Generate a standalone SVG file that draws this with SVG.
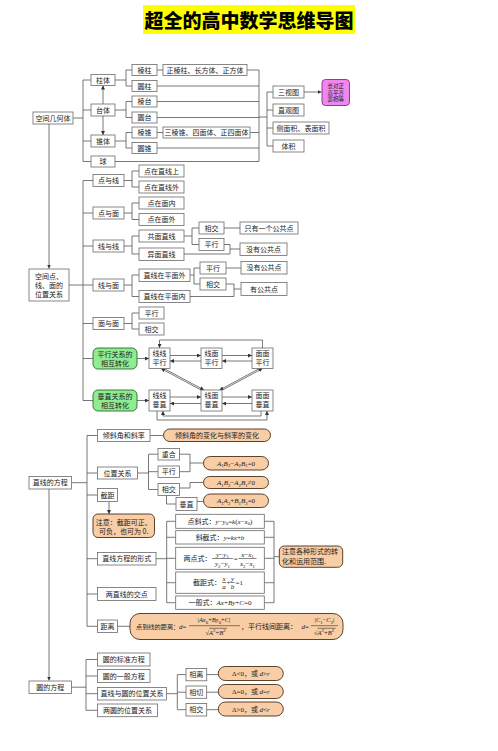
<svg xmlns="http://www.w3.org/2000/svg" width="498" height="751" viewBox="0 0 498 751">
<defs>
<marker id="ah" viewBox="0 0 6 6" refX="6" refY="3" markerWidth="4" markerHeight="4" orient="auto" markerUnits="userSpaceOnUse"><path d="M0,0 L6,3 L0,6 z" fill="#333"/></marker>
<style>
.b{fill:#fff;stroke:#6a6a6a;stroke-width:0.8}
.p{fill:#f9cda5;stroke:#4a3018;stroke-width:0.9}
.g{fill:#90ec90;stroke:#2f6b2f;stroke-width:0.9}
.v{fill:#ee88ee;stroke:#8a2a8a;stroke-width:0.9}
.t{font-family:"Noto Sans CJK SC","Noto Sans",sans-serif;font-size:7px;fill:#222;text-anchor:middle}
.s{text-anchor:start}
.c path{fill:none;stroke:#555;stroke-width:0.8}
.a{marker-end:url(#ah)}
.r{font-family:"Liberation Serif","DejaVu Serif",serif;font-style:normal}
.i{font-family:"Liberation Serif","DejaVu Serif",serif;font-style:italic}
.u{font-size:4.8px}
.ln{stroke:#333;stroke-width:0.6}
.sm{font-size:5.5px}
</style>
</defs>
<rect width="498" height="751" fill="#fff"/>
<g id="title">
<rect x="143" y="5" width="212" height="29" fill="#ffff00"/>
<text x="249" y="27.5" font-family="'Noto Sans CJK SC',sans-serif" font-size="19" font-weight="900" text-anchor="middle" fill="#000">超全的高中数学思维导图</text>
</g>
<g id="connectors" class="c">
<path d="M73 118H83M83 80V161.5M83 80H91M83 110H91M83 141H91M83 161.5H91"/>
<path class="a" d="M103 104V85.5"/>
<path class="a" d="M103 116V135"/>
<path d="M115 80H126M126 70V86M126 70H132M126 86H132M115 110H126M126 101.5V117.5M126 101.5H132M126 117.5H132M115 141H126M126 132.5V148M126 132.5H132M126 148H132"/>
<path d="M157 70H163M247 70H259M157 86H259M157 101.5H259M157 117.5H259M157 132.5H163M250 132.5H259M157 148H259M115 161.5H259M259 70V161.5"/>
<path d="M259 117H267M267 92V146M267 92H273M267 110H273M267 128H273M267 146H273"/>
<path class="a" d="M304 92H321.5"/>
<path class="a" d="M49 124V268.5"/>
<path d="M69 285H83M83 180.5V400.5M83 180.5H93M83 213H93M83 246H93M83 285H93M83 323.5H93M83 358.5H93M83 400.5H93"/>
<path d="M124 180.5H132M132 171V187M132 171H139M132 187H139M124 213H132M132 203V219.5M132 203H139M132 219.5H139M124 246H132M132 236V254M132 236H139M132 254H139"/>
<path d="M184 236H192M192 228V244.5M192 228H199M192 244.5H199M224 228H240M224 244.5H230V254M184 254H230M230 249H240"/>
<path d="M124 285H132M132 275V296.5M132 275H139M132 296.5H139M190 275H194M194 268V284M194 268H200M194 284H200M226 268H241M226 284H234V296.5M190 296.5H234M234 289H241"/>
<path d="M124 323.5H132M132 313V329M132 313H139M132 329H139"/>
<path class="a" d="M137 358.5H149"/>
<path class="a" d="M170 355.5H201"/>
<path class="a" d="M201 361H170"/>
<path class="a" d="M222 355.5H252"/>
<path class="a" d="M252 361H222"/>
<path class="a" d="M262.5 348V340H159.5V348"/>
<path class="a" d="M164 368.5L204 390"/>
<path class="a" d="M201 390L161 368.5"/>
<path class="a" d="M259.5 368.5L219.5 390"/>
<path class="a" d="M222.5 390L262.5 368.5"/>
<path class="a" d="M137 400.5H149"/>
<path class="a" d="M170 397H201"/>
<path class="a" d="M201 403.5H170"/>
<path class="a" d="M222 397H252"/>
<path class="a" d="M252 403.5H222"/>
<path class="a" d="M157 411V420H267V411"/>
<path class="a" d="M261 411V416H163V411"/>
<path class="a" d="M49 489V680.5"/>
<path d="M71.5 482.7H87M87 435.5V626.3M87 435.5H97.5M87 473H97.5M87 495H97.5M87 558.7H97.5M87 594H97.5M87 626.3H97.5M150 435.5H163.5M117.5 626.3H130"/>
<path class="a" d="M109 501.5V514"/>
<path d="M137.5 473H148.5M148.5 454.2V489.5M148.5 454.2H158M148.5 471.7H158M148.5 489.5H158"/>
<path d="M179.5 454.2H190V471.7M179.5 471.7H190M190 463H203.5M179.5 488H190V482.5H203.5M166.5 495.5V504H176M197 501.5H203.5"/>
<path d="M156 558.7H166.7M166.7 521.3V602.7M166.7 521.3H175.7M166.7 537.3H175.7M166.7 558.3H175.7M166.7 582.7H175.7M166.7 602.7H175.7"/>
<path d="M264.3 521.3H274M264.3 537.3H274M264.3 558.3H274M264.3 582.7H274M264.3 602.7H274M274 521.3V602.7M274 556.7H279.3"/>
<path d="M71.5 687.2H86M86 659.5V710.3M86 659.5H97.5M86 676H97.5M86 693.7H97.5M86 710.3H97.5"/>
<path d="M166.5 693.7H177.3M177.3 674.6V709.7M177.3 674.6H186M177.3 692.2H186M177.3 709.7H186M206.7 674.6H218.3M206.7 692.2H218.3M206.7 709.7H218.3"/>
</g>
<g id="n-kjjht"><rect class="b" x="33" y="112" width="40" height="12"/><text class="t" x="53" y="120.5">空间几何体</text></g>
<g id="n-zhuti"><rect class="b" x="91" y="74.5" width="24" height="11"/><text class="t" x="103" y="82.5">柱体</text></g>
<g id="n-taiti"><rect class="b" x="91" y="104" width="24" height="12"/><text class="t" x="103" y="112.5">台体</text></g>
<g id="n-zhuiti"><rect class="b" x="91" y="135" width="24" height="12"/><text class="t" x="103" y="143.5">锥体</text></g>
<g id="n-qiu"><rect class="b" x="91" y="156" width="24" height="11"/><text class="t" x="103" y="164">球</text></g>
<g id="n-lengzhu"><rect class="b" x="132" y="64.5" width="25" height="11"/><text class="t" x="144.5" y="72.5">棱柱</text></g>
<g id="n-yuanzhu"><rect class="b" x="132" y="80.5" width="25" height="11"/><text class="t" x="144.5" y="88.5">圆柱</text></g>
<g id="n-lengtai"><rect class="b" x="132" y="96" width="25" height="11"/><text class="t" x="144.5" y="104">棱台</text></g>
<g id="n-yuantai"><rect class="b" x="132" y="112" width="25" height="11"/><text class="t" x="144.5" y="120">圆台</text></g>
<g id="n-lengzhui"><rect class="b" x="132" y="127" width="25" height="11"/><text class="t" x="144.5" y="135">棱锥</text></g>
<g id="n-yuanzhui"><rect class="b" x="132" y="142.5" width="25" height="11"/><text class="t" x="144.5" y="150.5">圆锥</text></g>
<g id="n-zlz"><rect class="b" x="163" y="64.5" width="84" height="11"/><text class="t" x="205" y="72.5">正棱柱、长方体、正方体</text></g>
<g id="n-slz"><rect class="b" x="163" y="127" width="87" height="11"/><text class="t" x="206.5" y="135">三棱锥、四面体、正四面体</text></g>
<g id="n-sst"><rect class="b" x="273" y="86" width="31" height="12"/><text class="t" x="288.5" y="94.5">三视图</text></g>
<g id="n-zgt"><rect class="b" x="273" y="104" width="31" height="12"/><text class="t" x="288.5" y="112.5">直观图</text></g>
<g id="n-cmj"><rect class="b" x="273" y="122" width="56" height="12"/><text class="t" x="301" y="130.5">侧面积、表面积</text></g>
<g id="n-tj"><rect class="b" x="273" y="140" width="31" height="12"/><text class="t" x="288.5" y="148.5">体积</text></g>
<g id="n-cdz"><rect class="v" x="322" y="79.5" width="27.5" height="26" rx="3.5"/><text class="t sm" x="335.7" y="88.3">长对正</text><text class="t sm" x="335.7" y="94.8">高平齐</text><text class="t sm" x="335.7" y="101.3">宽相等</text></g>
<g id="n-kjd"><rect class="b" x="29" y="269" width="40" height="32"/><text class="t" x="49" y="278.5">空间点、</text><text class="t" x="49" y="287.5">线、面的</text><text class="t" x="49" y="296.5">位置关系</text></g>
<g id="n-dyx"><rect class="b" x="93" y="174.5" width="31" height="12"/><text class="t" x="108.5" y="183">点与线</text></g>
<g id="n-dym"><rect class="b" x="93" y="207" width="31" height="12"/><text class="t" x="108.5" y="215.5">点与面</text></g>
<g id="n-xyx"><rect class="b" x="93" y="240" width="31" height="12"/><text class="t" x="108.5" y="248.5">线与线</text></g>
<g id="n-xym"><rect class="b" x="93" y="279" width="31" height="12"/><text class="t" x="108.5" y="287.5">线与面</text></g>
<g id="n-mym"><rect class="b" x="93" y="317.5" width="31" height="12"/><text class="t" x="108.5" y="326">面与面</text></g>
<g id="n-dzzxs"><rect class="b" x="139" y="165" width="45" height="12"/><text class="t" x="161.5" y="173.5">点在直线上</text></g>
<g id="n-dzzxw"><rect class="b" x="139" y="181" width="45" height="12"/><text class="t" x="161.5" y="189.5">点在直线外</text></g>
<g id="n-dzmn"><rect class="b" x="139" y="197" width="45" height="12"/><text class="t" x="161.5" y="205.5">点在面内</text></g>
<g id="n-dzmw"><rect class="b" x="139" y="213.5" width="45" height="12"/><text class="t" x="161.5" y="222">点在面外</text></g>
<g id="n-gmzx"><rect class="b" x="139" y="230" width="45" height="12"/><text class="t" x="161.5" y="238.5">共面直线</text></g>
<g id="n-ymzx"><rect class="b" x="139" y="248" width="45" height="12.5"/><text class="t" x="161.5" y="256.5">异面直线</text></g>
<g id="n-xj1"><rect class="b" x="199" y="222" width="25" height="12"/><text class="t" x="211.5" y="230.5">相交</text></g>
<g id="n-px1"><rect class="b" x="199" y="238.5" width="25" height="12"/><text class="t" x="211.5" y="247">平行</text></g>
<g id="n-zyyg"><rect class="b" x="240" y="222" width="58" height="12"/><text class="t" x="269" y="230.5">只有一个公共点</text></g>
<g id="n-mygg1"><rect class="b" x="240" y="243" width="47" height="12.5"/><text class="t" x="263.5" y="251.7">没有公共点</text></g>
<g id="n-zxwai"><rect class="b" x="139" y="269" width="51" height="12.5"/><text class="t" x="164.5" y="277.5">直线在平面外</text></g>
<g id="n-zxnei"><rect class="b" x="139" y="290.5" width="51" height="12"/><text class="t" x="164.5" y="299">直线在平面内</text></g>
<g id="n-px2"><rect class="b" x="200" y="262" width="26" height="12"/><text class="t" x="213" y="270.5">平行</text></g>
<g id="n-xj2"><rect class="b" x="200" y="278" width="26" height="12"/><text class="t" x="213" y="286.5">相交</text></g>
<g id="n-mygg2"><rect class="b" x="241" y="261.5" width="46" height="12.5"/><text class="t" x="264" y="270.2">没有公共点</text></g>
<g id="n-ygg"><rect class="b" x="241" y="282.5" width="46" height="13"/><text class="t" x="264" y="291.5">有公共点</text></g>
<g id="n-px3"><rect class="b" x="139" y="307" width="25" height="12"/><text class="t" x="151.5" y="315.5">平行</text></g>
<g id="n-xj3"><rect class="b" x="139" y="323" width="25" height="12"/><text class="t" x="151.5" y="331.5">相交</text></g>
<g id="n-pxzh"><rect class="g" x="93" y="348" width="44" height="21" rx="5"/><text class="t" x="115" y="356.5">平行关系的</text><text class="t" x="115" y="365.5">相互转化</text></g>
<g id="n-czzh"><rect class="g" x="93" y="390" width="44" height="21" rx="5"/><text class="t" x="115" y="398.5">垂直关系的</text><text class="t" x="115" y="407.5">相互转化</text></g>
<g id="n-xxpx"><rect class="b" x="149" y="348" width="21" height="20.5"/><text class="t" x="159.5" y="355.5">线线</text><text class="t" x="159.5" y="364.5">平行</text></g>
<g id="n-xmpx"><rect class="b" x="201" y="348" width="21" height="20.5"/><text class="t" x="211.5" y="355.5">线面</text><text class="t" x="211.5" y="364.5">平行</text></g>
<g id="n-mmpx"><rect class="b" x="252" y="348" width="21" height="20.5"/><text class="t" x="262.5" y="355.5">面面</text><text class="t" x="262.5" y="364.5">平行</text></g>
<g id="n-xxcz"><rect class="b" x="149" y="390" width="21" height="21"/><text class="t" x="159.5" y="398">线线</text><text class="t" x="159.5" y="407">垂直</text></g>
<g id="n-xmcz"><rect class="b" x="201" y="390" width="21" height="21"/><text class="t" x="211.5" y="398">线面</text><text class="t" x="211.5" y="407">垂直</text></g>
<g id="n-mmcz"><rect class="b" x="252" y="390" width="21" height="21"/><text class="t" x="262.5" y="398">面面</text><text class="t" x="262.5" y="407">垂直</text></g>
<g id="n-zxdfc"><rect class="b" x="29" y="476.5" width="42.5" height="12.5"/><text class="t" x="50.2" y="485.2">直线的方程</text></g>
<g id="n-qxj"><rect class="b" x="97.5" y="429.5" width="52.5" height="12"/><text class="t" x="123.7" y="438">倾斜角和斜率</text></g>
<g id="n-qxjbh"><rect class="p" x="163.5" y="429" width="107" height="12.5" rx="6.25"/><text class="t" x="217" y="437.7">倾斜角的变化与斜率的变化</text></g>
<g id="n-wzgx"><rect class="b" x="97.5" y="467" width="40" height="12"/><text class="t" x="117.5" y="475.5">位置关系</text></g>
<g id="n-jj"><rect class="b" x="97.5" y="488.5" width="20" height="13"/><text class="t" x="107.5" y="497.5">截距</text></g>
<g id="n-zy1"><rect class="p" x="93" y="514" width="61.5" height="23.5" rx="5"/><text class="t" x="123.7" y="524.5">注意：截距可正、</text><text class="t" x="123.7" y="533.5">可负，也可为 0.</text></g>
<g id="n-chonghe"><rect class="b" x="158" y="448.5" width="21.5" height="11.5"/><text class="t" x="168.7" y="456.7">重合</text></g>
<g id="n-px4"><rect class="b" x="158" y="466" width="21.5" height="11.5"/><text class="t" x="168.7" y="474.2">平行</text></g>
<g id="n-xj4"><rect class="b" x="158" y="483.5" width="21.5" height="12"/><text class="t" x="168.7" y="492">相交</text></g>
<g id="n-cz"><rect class="b" x="176" y="497.5" width="21" height="13"/><text class="t" x="186.5" y="506.5">垂直</text></g>
<g id="n-f1"><rect class="p" x="203.5" y="456.5" width="65" height="13.5" rx="6.75"/><text class="t" x="236" y="465.6"><tspan class="i">A</tspan><tspan class="r u" dy="1.5">1</tspan><tspan class="i" dy="-1.5">B</tspan><tspan class="r u" dy="1.5">2</tspan><tspan class="r" dy="-1.5">−</tspan><tspan class="i">A</tspan><tspan class="r u" dy="1.5">2</tspan><tspan class="i" dy="-1.5">B</tspan><tspan class="r u" dy="1.5">1</tspan><tspan class="r" dy="-1.5">=0</tspan></text></g>
<g id="n-f2"><rect class="p" x="203.5" y="476.5" width="65" height="12" rx="6"/><text class="t" x="236" y="485"><tspan class="i">A</tspan><tspan class="r u" dy="1.5">1</tspan><tspan class="i" dy="-1.5">B</tspan><tspan class="r u" dy="1.5">2</tspan><tspan class="r" dy="-1.5">−</tspan><tspan class="i">A</tspan><tspan class="r u" dy="1.5">2</tspan><tspan class="i" dy="-1.5">B</tspan><tspan class="r u" dy="1.5">1</tspan><tspan class="r" dy="-1.5">≠0</tspan></text></g>
<g id="n-f3"><rect class="p" x="203.5" y="494" width="65" height="13.5" rx="6.75"/><text class="t" x="236" y="503.2"><tspan class="i">A</tspan><tspan class="r u" dy="1.5">1</tspan><tspan class="i" dy="-1.5">A</tspan><tspan class="r u" dy="1.5">2</tspan><tspan class="r" dy="-1.5">+</tspan><tspan class="i">B</tspan><tspan class="r u" dy="1.5">1</tspan><tspan class="i" dy="-1.5">B</tspan><tspan class="r u" dy="1.5">2</tspan><tspan class="r" dy="-1.5">=0</tspan></text></g>
<g id="n-zxfcxs"><rect class="b" x="97.5" y="552.5" width="58.5" height="12.5"/><text class="t" x="126.7" y="561.2">直线方程的形式</text></g>
<g id="n-lzxjd"><rect class="b" x="97.5" y="587.5" width="58.5" height="13"/><text class="t" x="126.7" y="596.5">两直线的交点</text></g>
<g id="n-jl"><rect class="b" x="97.5" y="620" width="20" height="12.5"/><text class="t" x="107.5" y="628.8">距离</text></g>
<g id="n-dxs"><rect class="b" x="175.7" y="514.3" width="88.6" height="14"/><text class="t" x="220" y="523.8">点斜式：<tspan class="i">y</tspan><tspan class="r">−</tspan><tspan class="i">y</tspan><tspan class="r u" dy="1.5">0</tspan><tspan class="r" dy="-1.5">=</tspan><tspan class="i">k</tspan><tspan class="r">(</tspan><tspan class="i">x</tspan><tspan class="r">−</tspan><tspan class="i">x</tspan><tspan class="r u" dy="1.5">0</tspan><tspan class="r" dy="-1.5">)</tspan></text></g>
<g id="n-xjs"><rect class="b" x="175.7" y="530.7" width="88.6" height="13.3"/><text class="t" x="220" y="539.8">斜截式：<tspan class="i">y</tspan><tspan class="r">=</tspan><tspan class="i">kx</tspan><tspan class="r">+</tspan><tspan class="i">b</tspan></text></g>
<g id="n-lds"><rect class="b" x="175.7" y="547.3" width="88.6" height="22"/><text class="t s" x="183.5" y="561">两点式：</text>
<text class="t" x="222.5" y="556.5"><tspan class="i">y</tspan><tspan class="r">−</tspan><tspan class="i">y</tspan><tspan class="r u" dy="1.5">1</tspan></text>
<path class="ln" d="M212 558.5H233"/>
<text class="t" x="222.5" y="566"><tspan class="i">y</tspan><tspan class="r u" dy="1.5">2</tspan><tspan class="r" dy="-1.5">−</tspan><tspan class="i">y</tspan><tspan class="r u" dy="1.5">1</tspan></text>
<text class="t r" x="235.8" y="561">=</text>
<text class="t" x="247.5" y="556.5"><tspan class="i">x</tspan><tspan class="r">−</tspan><tspan class="i">x</tspan><tspan class="r u" dy="1.5">1</tspan></text>
<path class="ln" d="M238.5 558.5H256.5"/>
<text class="t" x="247.5" y="566"><tspan class="i">x</tspan><tspan class="r u" dy="1.5">2</tspan><tspan class="r" dy="-1.5">−</tspan><tspan class="i">x</tspan><tspan class="r u" dy="1.5">1</tspan></text></g>
<g id="n-jjs"><rect class="b" x="175.7" y="572" width="88.6" height="21.3"/><text class="t s" x="193" y="585.2">截距式：</text>
<text class="t i" x="224" y="580.5">x</text><path class="ln" d="M222 582.5H226"/><text class="t i" x="224" y="589">a</text>
<text class="t r" x="228.5" y="585.2">+</text>
<text class="t i" x="232.5" y="580.5">y</text><path class="ln" d="M230.5 582.5H234.5"/><text class="t i" x="232.5" y="589">b</text>
<text class="t r s" x="235.5" y="585.2">=1</text></g>
<g id="n-ybs"><rect class="b" x="175.7" y="596" width="88.6" height="13.3"/><text class="t" x="220" y="605.2">一般式：<tspan class="i">Ax</tspan><tspan class="r">+</tspan><tspan class="i">By</tspan><tspan class="r">+</tspan><tspan class="i">C</tspan><tspan class="r">=0</tspan></text></g>
<g id="n-zy2"><rect class="p" x="279.3" y="546" width="63.4" height="21.3" rx="5"/><text class="t s" x="282" y="553.8">注意各种形式的转</text><text class="t s" x="282" y="563.6">化和运用范围.</text></g>
<g id="n-jlgs"><rect class="p" x="130" y="613.5" width="213" height="26" rx="10"/>
<text class="t s" x="136" y="628.8" style="font-size:6.2px">点到线的距离：</text>
<text class="t s" x="179" y="628.8"><tspan class="i">d</tspan><tspan class="r">=</tspan></text>
<text class="t" x="214" y="622.3" style="font-size:6.5px"><tspan class="r">|</tspan><tspan class="i">Ax</tspan><tspan class="r u" dy="1.5">0</tspan><tspan class="r" dy="-1.5">+</tspan><tspan class="i">By</tspan><tspan class="r u" dy="1.5">0</tspan><tspan class="r" dy="-1.5">+</tspan><tspan class="i">C</tspan><tspan class="r">|</tspan></text>
<path class="ln" d="M189 625.7H240"/>
<text class="t s" x="205.5" y="634.5" style="font-size:6.5px"><tspan class="r">√</tspan><tspan class="i">A</tspan><tspan class="r u" dy="-2.2">2</tspan><tspan class="r" dy="2.2">+</tspan><tspan class="i">B</tspan><tspan class="r u" dy="-2.2">2</tspan></text>
<path class="ln" d="M209.2 628.3H227"/>
<text class="t s" x="241" y="628.8">，平行线间距离：</text>
<text class="t s" x="301.5" y="628.8"><tspan class="i">d</tspan><tspan class="r">=</tspan></text>
<text class="t" x="324.5" y="622.3" style="font-size:6.5px"><tspan class="r">|</tspan><tspan class="i">C</tspan><tspan class="r u" dy="1.5">1</tspan><tspan class="r" dy="-1.5">−</tspan><tspan class="i">C</tspan><tspan class="r u" dy="1.5">2</tspan><tspan class="r" dy="-1.5">|</tspan></text>
<path class="ln" d="M311 625.7H338"/>
<text class="t s" x="314" y="634.5" style="font-size:6.5px"><tspan class="r">√</tspan><tspan class="i">A</tspan><tspan class="r u" dy="-2.2">2</tspan><tspan class="r" dy="2.2">+</tspan><tspan class="i">B</tspan><tspan class="r u" dy="-2.2">2</tspan></text>
<path class="ln" d="M317.7 628.3H335.5"/></g>
<g id="n-ydfc"><rect class="b" x="29" y="681" width="42.5" height="12.5"/><text class="t" x="50.2" y="689.7">圆的方程</text></g>
<g id="n-ybzfc"><rect class="b" x="97.5" y="653" width="52.5" height="13"/><text class="t" x="123.7" y="662">圆的标准方程</text></g>
<g id="n-yybfc"><rect class="b" x="97.5" y="669.5" width="52.5" height="13"/><text class="t" x="123.7" y="678.5">圆的一般方程</text></g>
<g id="n-zxyy"><rect class="b" x="97.5" y="687.5" width="69" height="12.5"/><text class="t" x="132" y="696.2">直线与圆的位置关系</text></g>
<g id="n-lywz"><rect class="b" x="97.5" y="704" width="60" height="12.7"/><text class="t" x="127.5" y="712.8">两圆的位置关系</text></g>
<g id="n-xl"><rect class="b" x="186" y="668.5" width="20.7" height="12.3"/><text class="t" x="196.3" y="677.1">相离</text></g>
<g id="n-xq"><rect class="b" x="186" y="686" width="20.7" height="12.3"/><text class="t" x="196.3" y="694.7">相切</text></g>
<g id="n-xj5"><rect class="b" x="186" y="703.5" width="20.7" height="12.5"/><text class="t" x="196.3" y="712.2">相交</text></g>
<g id="n-c1"><rect class="p" x="218.3" y="666.5" width="65" height="14" rx="7"/><text class="t" x="250.8" y="676"><tspan class="r">Δ&lt;0</tspan>，或 <tspan class="i">d</tspan><tspan class="r">&gt;</tspan><tspan class="i">r</tspan></text></g>
<g id="n-c2"><rect class="p" x="218.3" y="684.5" width="65" height="14" rx="7"/><text class="t" x="250.8" y="694"><tspan class="r">Δ=0</tspan>，或 <tspan class="i">d</tspan><tspan class="r">=</tspan><tspan class="i">r</tspan></text></g>
<g id="n-c3"><rect class="p" x="218.3" y="702" width="65" height="14" rx="7"/><text class="t" x="250.8" y="711.5"><tspan class="r">Δ&gt;0</tspan>，或 <tspan class="i">d</tspan><tspan class="r">&lt;</tspan><tspan class="i">r</tspan></text></g>
</svg>
